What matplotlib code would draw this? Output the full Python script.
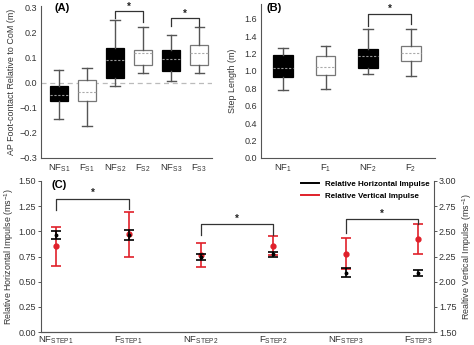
import matplotlib.pyplot as plt
from matplotlib.lines import Line2D

plt.rcParams["font.family"] = ["Liberation Sans", "DejaVu Sans"]
plt.rcParams["mathtext.fontset"] = "custom"
plt.rcParams["mathtext.rm"] = "Liberation Sans"
plt.rcParams["mathtext.it"] = "Liberation Sans:italic"
plt.rcParams["mathtext.bf"] = "Liberation Sans:bold"
plt.rcParams["axes.edgecolor"] = "#555555"
plt.rcParams["xtick.color"] = "#555555"
plt.rcParams["ytick.color"] = "#555555"
plt.rcParams["xtick.labelcolor"] = "#333333"
plt.rcParams["ytick.labelcolor"] = "#333333"

# Panel A: AP foot-contact relative to CoM (m), five-number summaries
a_labels = ["NF$_\\mathrm{S1}$", "F$_\\mathrm{S1}$", "NF$_\\mathrm{S2}$",
            "F$_\\mathrm{S2}$", "NF$_\\mathrm{S3}$", "F$_\\mathrm{S3}$"]
a_whislo = [-0.143, -0.173, -0.013, 0.040, 0.008, 0.040]
a_q1 = [-0.072, -0.072, 0.019, 0.069, 0.048, 0.069]
a_med = [-0.048, -0.037, 0.092, 0.116, 0.093, 0.119]
a_q3 = [-0.013, 0.009, 0.139, 0.131, 0.128, 0.151]
a_whishi = [0.049, 0.060, 0.250, 0.221, 0.190, 0.221]

# Panel B: step length (m)
b_labels = ["NF$_\\mathrm{1}$", "F$_\\mathrm{1}$", "NF$_\\mathrm{2}$", "F$_\\mathrm{2}$"]
b_whislo = [0.78, 0.79, 0.965, 0.94]
b_q1 = [0.927, 0.95, 1.04, 1.12]
b_med = [1.04, 1.05, 1.17, 1.21]
b_q3 = [1.185, 1.17, 1.25, 1.29]
b_whishi = [1.27, 1.29, 1.48, 1.48]

# Panel C: impulses, mean and error
c_labels = ["NF$_\\mathrm{STEP1}$", "F$_\\mathrm{STEP1}$", "NF$_\\mathrm{STEP2}$",
            "F$_\\mathrm{STEP2}$", "NF$_\\mathrm{STEP3}$", "F$_\\mathrm{STEP3}$"]
horiz_mean = [0.962, 0.966, 0.743, 0.770, 0.591, 0.588]
horiz_err = [0.042, 0.048, 0.030, 0.027, 0.043, 0.027]
vert_mean = [2.352, 2.471, 2.266, 2.358, 2.279, 2.421]
vert_err = [0.192, 0.223, 0.122, 0.094, 0.150, 0.150]

BLACK = "#000000"
RED = "#e0202a"
GREY = "#555555"
TXT = "#333333"


def draw_boxes(ax, whislo, q1, med, q3, whishi, width):
    stats = []
    for i in range(len(med)):
        stats.append({"whislo": whislo[i], "q1": q1[i], "med": med[i],
                      "q3": q3[i], "whishi": whishi[i], "fliers": []})
    bp = ax.bxp(stats, positions=range(1, len(med) + 1), widths=width,
                patch_artist=True, showfliers=False,
                whiskerprops=dict(color=GREY, lw=1.0),
                capprops=dict(color=GREY, lw=1.0),
                medianprops=dict(ls=(0, (2, 1.5)), lw=0.8),
                capwidths=width * 0.5)
    for i, box in enumerate(bp["boxes"]):
        med_line = bp["medians"][i]
        if i % 2 == 0:
            box.set_facecolor("black")
            box.set_edgecolor("black")
            med_line.set_color("#999999")
        else:
            box.set_facecolor("white")
            box.set_edgecolor("#777777")
            med_line.set_color("#aaaaaa")
        box.set_linewidth(0.9)


def bracket(ax, x1, x2, y, y1, y2, ystar):
    ax.plot([x1, x1, x2, x2], [y1, y, y, y2], color="#333333", lw=0.9,
            clip_on=False)
    ax.text((x1 + x2) / 2, ystar, "*", ha="center", va="center",
            fontsize=7, fontweight="bold", color="#222222")


def style(ax):
    ax.spines["top"].set_visible(False)
    ax.spines["right"].set_visible(False)
    ax.tick_params(axis="y", labelsize=6.5, length=0, pad=3)
    ax.tick_params(axis="x", length=0, labelsize=6.8, pad=3)


fig = plt.figure(figsize=(4.74, 3.45), dpi=100)

# (A)
ax_a = fig.add_axes([41 / 474, 1 - 158 / 345, 171 / 474, 152 / 345])
ax_a.axhline(0, color="#bbbbbb", lw=0.9, ls=(0, (4, 3)), zorder=0)
draw_boxes(ax_a, a_whislo, a_q1, a_med, a_q3, a_whishi, 0.65)
ax_a.set_xlim(0.36, 6.46)
ax_a.set_ylim(-0.3, 0.305)
ax_a.set_yticks([-0.3, -0.2, -0.1, 0.0, 0.1, 0.2, 0.3])
ax_a.set_yticklabels(["\u22120.3", "\u22120.2", "\u22120.1", "0.0", "0.1", "0.2", "0.3"])
ax_a.set_xticks(range(1, 7))
ax_a.set_xticklabels(a_labels)
ax_a.set_ylabel("AP Foot-contact Relative to CoM (m)", fontsize=6.4,
                color=TXT, labelpad=2)
style(ax_a)
bracket(ax_a, 3, 4, 0.285, 0.259, 0.242, 0.30)
bracket(ax_a, 5, 6, 0.259, 0.224, 0.224, 0.275)
ax_a.text(0.85, 0.296, "(A)", fontsize=8, fontweight="bold", va="center")

# (B)
ax_b = fig.add_axes([261 / 474, 1 - 158 / 345, 174 / 474, 154 / 345])
draw_boxes(ax_b, b_whislo, b_q1, b_med, b_q3, b_whishi, 0.46)
ax_b.set_xlim(0.49, 4.56)
ax_b.set_ylim(0, 1.77)
ax_b.set_yticks([0.0, 0.2, 0.4, 0.6, 0.8, 1.0, 1.2, 1.4, 1.6])
ax_b.set_yticklabels(["0.0", "0.2", "0.4", "0.6", "0.8", "1.0", "1.2", "1.4", "1.6"])
ax_b.set_xticks(range(1, 5))
ax_b.set_xticklabels(b_labels)
ax_b.set_ylabel("Step Length (m)", fontsize=6.4, color=TXT, labelpad=5)
style(ax_b)
bracket(ax_b, 3, 4, 1.65, 1.52, 1.54, 1.71)
ax_b.text(0.62, 1.72, "(B)", fontsize=8, fontweight="bold", va="center")

# (C)
ax_c = fig.add_axes([41 / 474, 13 / 345, 393 / 474, 151 / 345])
ax_r = ax_c.twinx()
pos = list(range(1, 7))
ax_c.errorbar(pos, horiz_mean, yerr=horiz_err, fmt="o", ms=1.8, color=BLACK,
              ecolor=BLACK, elinewidth=1.2, capsize=3.5, capthick=1.2, zorder=3)
ax_r.errorbar(pos, vert_mean, yerr=vert_err, fmt="o", ms=3.5, color=RED,
              ecolor=RED, elinewidth=1.2, capsize=3.5, capthick=1.2, zorder=2)
ax_c.set_zorder(ax_r.get_zorder() + 1)
ax_c.patch.set_visible(False)
ax_c.set_xlim(0.79, 6.22)
ax_c.set_ylim(0, 1.5)
ax_r.set_ylim(1.5, 3.0)
ax_c.set_yticks([0.0, 0.25, 0.5, 0.75, 1.0, 1.25, 1.5])
ax_c.set_yticklabels(["0.00", "0.25", "0.50", "0.75", "1.00", "1.25", "1.50"])
ax_r.set_yticks([1.5, 1.75, 2.0, 2.25, 2.5, 2.75, 3.0])
ax_r.set_yticklabels(["1.50", "1.75", "2.00", "2.25", "2.50", "2.75", "3.00"])
ax_c.set_xticks(pos)
ax_c.set_xticklabels(c_labels)
ax_c.set_ylabel("Relative Horizontal Impulse (ms$^{-1}$)", fontsize=6.4,
                color=TXT, labelpad=2)
ax_r.set_ylabel("Realtive Vertical Impulse (ms$^{-1}$)", fontsize=6.4,
                color=TXT, labelpad=3)
ax_c.spines["top"].set_visible(False)
ax_c.spines["right"].set_visible(False)
ax_r.spines["top"].set_visible(False)
ax_r.spines["left"].set_visible(False)
ax_c.tick_params(axis="y", labelsize=6.5, length=2, width=0.7, pad=1.5)
ax_r.tick_params(axis="y", labelsize=6.5, length=2, width=0.7, pad=1.5)
ax_c.tick_params(axis="x", length=0, labelsize=6.8, pad=1.5)
bracket(ax_c, 1, 2, 1.318, 1.21, 1.22, 1.38)
bracket(ax_c, 3, 4, 1.073, 0.964, 0.964, 1.12)
bracket(ax_c, 5, 6, 1.12, 0.984, 1.07, 1.17)
ax_c.text(0.93, 1.46, "(C)", fontsize=8, fontweight="bold", va="center")

handles = [Line2D([], [], color=BLACK, lw=1.4), Line2D([], [], color=RED, lw=1.4)]
ax_c.legend(handles, ["Relative Horizontal Impulse", "Relative Vertical Impulse"],
            loc="upper right", bbox_to_anchor=(1.0, 1.03), frameon=False,
            prop=dict(size=5.8, weight="bold"), handlelength=2.2,
            labelspacing=0.55, borderaxespad=0.1)

fig.savefig("out.png", dpi=100)
